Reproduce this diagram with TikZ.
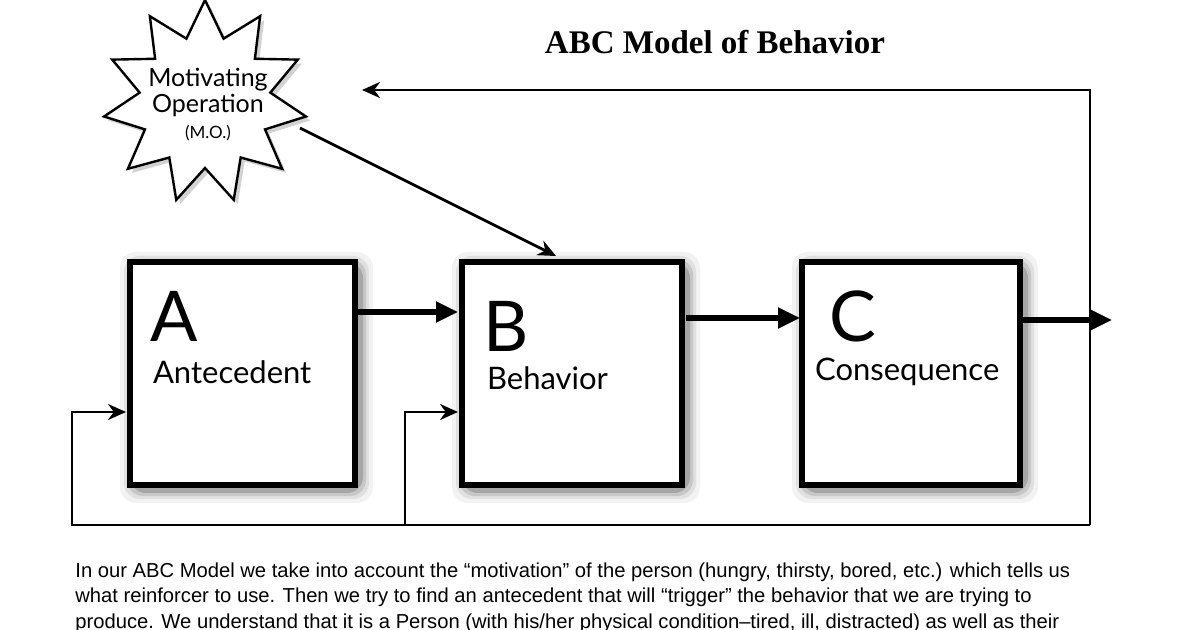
\documentclass[tikz,border=0pt]{standalone}
\usepackage{fontspec}
\setmainfont{Liberation Serif}
\newfontfamily\gill{Lato}
\newfontfamily\arial{Liberation Sans}
\usetikzlibrary{arrows.meta}
\begin{document}
\begin{tikzpicture}[x=0.5pt,y=-0.5pt,
  flow/.style={line width=2.6pt,-{Triangle[length=11pt,width=10pt]}},
  fbarrow/.style={line width=1.4pt,-{Stealth[length=9pt,width=8pt]}},
  bigl/.style={font=\gill\fontsize{35}{37}\selectfont,anchor=west},
  word/.style={font=\gill\fontsize{15.5}{17}\selectfont,anchor=west}]
\useasboundingbox (0,0) rectangle (1200,630);
\fill[white] (0,0) rectangle (1200,630);
% title
\node (title) at (715,42) {\fontsize{16.5}{18}\selectfont\bfseries ABC Model of Behavior};
% star
\fill[gray!35] plot[samples=23,domain=0:22] ({205+4+((mod(\x,2)==0)?102:66)*sin(\x*360/22)},{102+4-((mod(\x,2)==0)?102:66)*cos(\x*360/22)}) -- cycle;
\filldraw[fill=white,draw=black,line width=1.2pt] plot[samples=23,domain=0:22] ({205+((mod(\x,2)==0)?102:66)*sin(\x*360/22)},{102-((mod(\x,2)==0)?102:66)*cos(\x*360/22)}) -- cycle;
\node[align=center,font=\gill\fontsize{12.5}{13}\selectfont] (mo) at (208,105) {Motivating\\Operation\\{\fontsize{8.5}{10}\selectfont(M.O.)}};
\coordinate (mot) at (362,90);
\coordinate (mod) at (300,128);
% boxes with shadow
\foreach \n/\xa/\xb in {a/130/355,b/462/682,c/802/1020}{
  \foreach \k/\c in {14/5,10/12,7/22,4/35}{
    \fill[black!\c,rounded corners=8pt] (\xa-\k+4,262-\k+4) rectangle (\xb+\k+4,485+\k+4);}
  \filldraw[fill=white,draw=black,line width=2.6pt] (\xa,262) rectangle (\xb,485);
  \node[inner sep=0,minimum width=0] (\n) at ({(\xa+\xb)/2},373.5) {};
}
\node[bigl] (al) at (143,316) {A};
\node[word] (aw) at (146,372) {Antecedent};
\node[bigl] (bl) at (476,326) {B};
\node[word] (bw) at (480,378) {Behavior};
\node[bigl] (cl) at (822,316) {C};
\node[word] (cw) at (808,372) {Consequence};
% flow arrows
\coordinate (a1) at (358,312); \coordinate (b1) at (458,312);
\draw[flow] (a1) -- (b1);
\coordinate (b2) at (686,318); \coordinate (c1) at (800,318);
\draw[flow] (b2) -- (c1);
\coordinate (c2) at (1022,320); \coordinate (out) at (1112,320);
\draw[flow] (c2) -- (out);
% MO to B
\coordinate (bt) at (556,256);
\draw[fbarrow] (mod) -- (bt);
% feedback
\coordinate (r1) at (1090,90); \coordinate (r2) at (1090,525);
\coordinate (l1) at (72,525); \coordinate (l2) at (72,412); \coordinate (ain) at (126,412);
\coordinate (m1) at (405,525); \coordinate (m2) at (405,412); \coordinate (bin) at (458,412);
\draw[fbarrow] (r2) -- (r1) -- (mot);
\draw[fbarrow] (r2) -- (l1) -- (l2) -- (ain);
\draw[fbarrow] (m1) -- (m2) -- (bin);
% caption
\node[anchor=north west,align=left,inner sep=0,font=\arial\fontsize{10.1}{12.8}\selectfont] (cap) at (75,562) {In our ABC Model we take into account the “motivation” of the person (hungry, thirsty, bored, etc.) which tells us\\what reinforcer to use. Then we try to find an antecedent that will “trigger” the behavior that we are trying to\\produce. We understand that it is a Person (with his/her physical condition–tired, ill, distracted) as well as their};
\end{tikzpicture}
\end{document}
